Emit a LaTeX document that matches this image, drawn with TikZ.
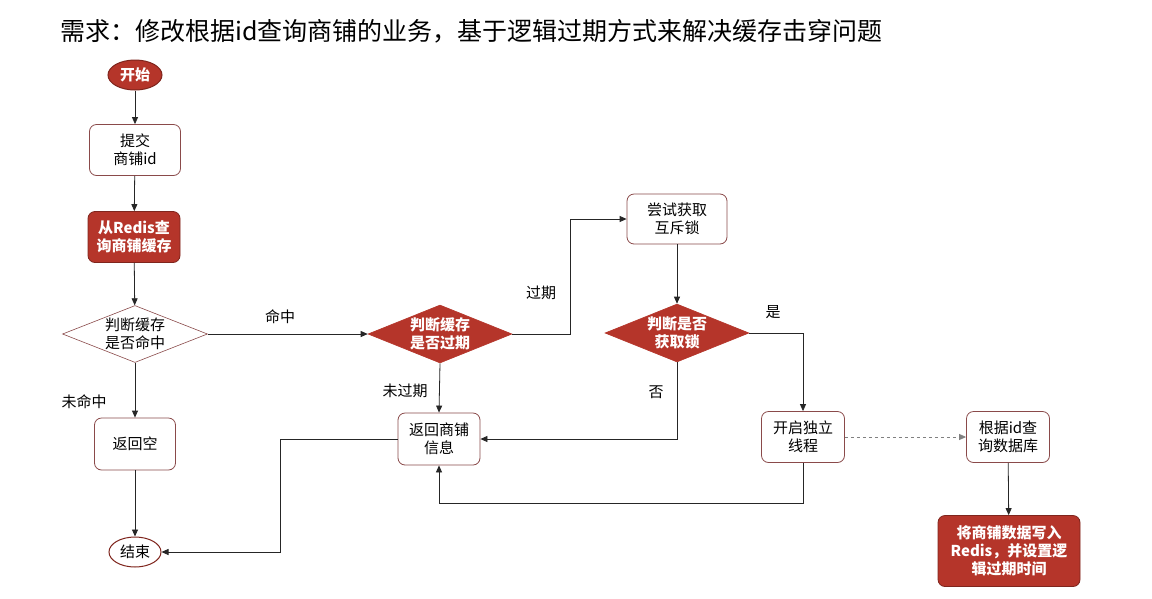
\documentclass[tikz,border=0pt]{standalone}
\usepackage{fontspec}
\setmainfont{Noto Sans CJK SC}
\usetikzlibrary{shapes.geometric,arrows.meta}
\definecolor{rd}{HTML}{B5352A}
\definecolor{bd}{HTML}{8A4A4A}
\begin{document}
\begin{tikzpicture}[x=1pt,y=-1pt,
  box/.style={draw=bd,line width=0.8pt,rounded corners=7pt,fill=white,align=center,font=\fontsize{15}{18}\selectfont,inner sep=0pt},
  rbox/.style={box,fill=rd,draw=rd!70!black,text=white,font=\fontsize{15}{18}\selectfont\bfseries},
  dia/.style={diamond,aspect=2.5,draw=bd,line width=0.6pt,align=center,font=\fontsize{15}{18}\selectfont,inner sep=0pt},
  rdia/.style={dia,fill=rd,draw=rd,text=white,font=\fontsize{15}{18}\selectfont\bfseries},
  term/.style={ellipse,draw=rd!70!black,line width=1pt,font=\fontsize{15}{18}\selectfont,inner sep=0pt},
  arr/.style={-{Triangle[length=7pt,width=6pt]},line width=0.8pt,black!85},
  lbl/.style={font=\fontsize{15}{18}\selectfont}]
\useasboundingbox (0,0) rectangle (1152,598);
\fill[white] (0,0) rectangle (1152,598);
\node[anchor=west,font=\fontsize{25}{30}\selectfont] (title) at (57,31) {需求：修改根据id查询商铺的业务，基于逻辑过期方式来解决缓存击穿问题};
\node[term,fill=rd,text=white,minimum width=54pt,minimum height=30pt,font=\fontsize{15}{18}\selectfont\bfseries] (start) at (135,75) {开始};
\node[box,minimum width=91pt,minimum height=51pt] (submit) at (135,150) {提交\\商铺id};
\node[rbox,minimum width=92pt,minimum height=51pt] (redis) at (134,237) {从Redis查\\询商铺缓存};
\node[dia,minimum width=145pt,minimum height=57pt] (d1) at (135,334) {判断缓存\\是否命中};
\node[box,minimum width=81pt,minimum height=52pt] (empty) at (135,444) {返回空};
\node[term,fill=white,minimum width=52pt,minimum height=30pt] (end) at (135,552) {结束};
\node[rdia,minimum width=144pt,minimum height=58pt] (d2) at (440,334) {判断缓存\\是否过期};
\node[box,minimum width=82pt,minimum height=52pt] (ret) at (439,439) {返回商铺\\信息};
\node[box,minimum width=100pt,minimum height=50pt] (lock) at (677,219) {尝试获取\\互斥锁};
\node[rdia,minimum width=144pt,minimum height=58pt] (d3) at (677,333) {判断是否\\获取锁};
\node[box,minimum width=83pt,minimum height=51pt] (thread) at (803,437) {开启独立\\线程};
\node[box,minimum width=83pt,minimum height=51pt] (db) at (1008,437) {根据id查\\询数据库};
\node[rbox,minimum width=142pt,minimum height=71pt] (write) at (1009,551) {将商铺数据写入\\Redis，并设置逻\\辑过期时间};
\draw[arr] (start) -- (submit);
\draw[arr] (submit) -- (redis);
\draw[arr] (redis) -- (d1);
\draw[arr] (d1) -- (empty);
\draw[arr] (empty) -- (end);
\draw[arr] (d1.east) -- (d2.west);
\draw[arr] (d2.east) -| (570,219) -- (lock.west);
\draw[arr] (d2.south) -- (ret.north);
\draw[arr] (lock) -- (d3);
\draw[arr] (d3.east) -| (thread.north);
\draw[arr] (d3.south) |- (ret.east);
\draw[arr] (thread.south) |- (439,503) -- (ret.south);
\draw[arr] (ret.west) -| (280,552) -- (end.east);
\draw[arr,dashed,gray] (thread) -- (db);
\draw[arr] (db) -- (write);
\node[lbl] (l1) at (280,317) {命中};
\node[lbl] (l2) at (541,293) {过期};
\node[lbl] (l3) at (405,391) {未过期};
\node[lbl] (l4) at (84,402) {未命中};
\node[lbl] (l5) at (773,312) {是};
\node[lbl] (l6) at (656,392) {否};
\end{tikzpicture}
\end{document}
